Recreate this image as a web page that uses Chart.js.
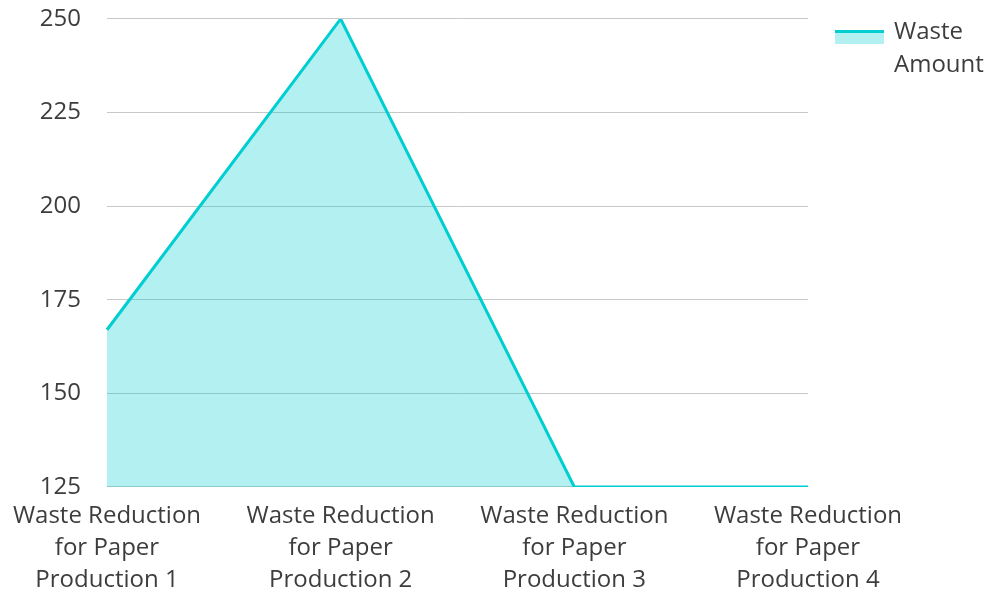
<!DOCTYPE html>
<html>
<head>
<meta charset="utf-8">
<style>
  html, body { margin: 0; padding: 0; background: #ffffff; overflow: hidden; }
  #wrap { width: 990px; height: 592px; position: relative; }
</style>
<script src="https://cdn.jsdelivr.net/npm/chart.js@4.4.1/dist/chart.umd.min.js"></script>
</head>
<body>
<div id="wrap"><canvas id="chart"></canvas></div>
<script>
// Waste amount per production step
const categories = [
  ['Waste Reduction', 'for Paper', 'Production 1'],
  ['Waste Reduction', 'for Paper', 'Production 2'],
  ['Waste Reduction', 'for Paper', 'Production 3'],
  ['Waste Reduction', 'for Paper', 'Production 4']
];
const wasteAmount = [167, 250, 125, 125];
const seriesLabel = ['Waste', 'Amount'];
const yTicks = [125, 150, 175, 200, 225, 250];

const lineColor = 'rgb(0, 206, 209)';
const fillColor = 'rgba(0, 206, 209, 0.3)';
const textColor = '#3d3d3d';
const gridColor = '#c8c8c8';

Chart.defaults.font.family = "'Open Sans', sans-serif";
Chart.defaults.font.size = 24;
Chart.defaults.font.lineHeight = 1.33;
Chart.defaults.color = textColor;

// Legend marker: a short band of the area fill with the line colour along its top,
// and a small nudge of the legend block away from the plot.
const legendMarker = {
  id: 'legendMarker',
  afterLayout(chart) {
    const lg = chart.legend;
    if (!lg) return;
    const dx = 17, dy = 10;
    lg.left += dx; lg.right += dx;
    lg.top += dy; lg.bottom += dy;
  },
  afterDraw(chart) {
    const lg = chart.legend;
    if (!lg || !lg.legendHitBoxes || !lg.legendHitBoxes.length) return;
    const hb = lg.legendHitBoxes[0];
    const ctx = chart.ctx;
    const x = hb.left, y = hb.top + 10, w = 49;
    ctx.save();
    ctx.fillStyle = fillColor;
    ctx.fillRect(x, y + 3, w, 11);
    ctx.fillStyle = lineColor;
    ctx.fillRect(x, y, w, 3);
    ctx.restore();
  }
};

new Chart(document.getElementById('chart'), {
  type: 'line',
  data: {
    labels: categories,
    datasets: [{
      label: seriesLabel,
      data: wasteAmount,
      borderColor: lineColor,
      backgroundColor: fillColor,
      borderWidth: 3,
      fill: true,
      tension: 0,
      pointRadius: 0,
      pointHoverRadius: 0
    }]
  },
  options: {
    responsive: true,
    maintainAspectRatio: false,
    animation: false,
    layout: { padding: 0 },
    plugins: {
      legend: {
        position: 'right',
        align: 'start',
        labels: {
          boxWidth: 47,
          boxHeight: 14,
          padding: 10,
          color: textColor,
          font: { size: 24, lineHeight: 1.4 },
          generateLabels(chart) {
            const items = Chart.defaults.plugins.legend.labels.generateLabels(chart);
            items.forEach(it => {
              it.fillStyle = 'rgba(0,0,0,0)';
              it.strokeStyle = 'rgba(0,0,0,0)';
              it.lineWidth = 0;
            });
            return items;
          }
        }
      },
      tooltip: { enabled: false }
    },
    scales: {
      x: {
        offset: false,
        grid: { display: false, drawTicks: false },
        border: { display: false },
        ticks: { maxRotation: 0, autoSkip: false, padding: 13 },
        afterFit(scale) {
          scale.height = 105;
          scale.paddingLeft = 107;
          scale.paddingRight = 182;
        }
      },
      y: {
        min: yTicks[0],
        max: yTicks[yTicks.length - 1],
        afterBuildTicks: (axis) => { axis.ticks = yTicks.map(v => ({ value: v })); },
        grid: { color: gridColor, drawTicks: true, tickLength: 23, tickColor: 'rgba(0,0,0,0)', lineWidth: 1 },
        border: { display: false },
        ticks: { padding: 3 }
      }
    }
  },
  plugins: [legendMarker]
});
</script>
</body>
</html>
